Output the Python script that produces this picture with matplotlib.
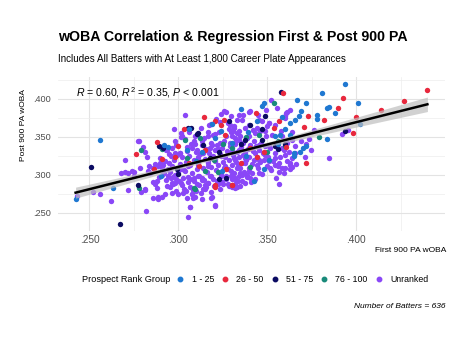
import numpy as np
import matplotlib
matplotlib.use('Agg')
import matplotlib.pyplot as plt
import matplotlib.font_manager as fm
from matplotlib.lines import Line2D

# font: a narrow sans if there is one, else plain Liberation Sans
available_fonts = set(f.name for f in fm.fontManager.ttflist)
if 'Liberation Sans Narrow' in available_fonts:
    font_family = 'Liberation Sans Narrow'
    k = 1.0
else:
    font_family = 'Liberation Sans'
    k = 0.86

plt.rcParams['font.family'] = font_family
plt.rcParams['mathtext.fontset'] = 'custom'
plt.rcParams['mathtext.rm'] = font_family
plt.rcParams['mathtext.it'] = font_family + ':italic'

# --- data (first 900 PA wOBA, post 900 PA wOBA) ---
blue_first = [.2422, .2561, .2630, .2902, .2943, .2920, .3062, .3188, .3239, .3207,
              .3353, .3470, .3479, .3440, .3582, .3545, .3573, .3390, .3423, .3648,
              .3629, .3626, .3600, .3658, .3676, .3688, .3665, .3718, .3778, .3778,
              .3808, .3838, .3846, .3878, .3937, .4007, .4019, .3836, .3700, .3686,
              .3648, .3718, .3244, .3130, .3300, .3510, .3480, .3050, .3380, .3560,
              .3100]
blue_post = [.2684, .3460, .2830, .2991, .3368, .3386, .3602, .3668, .3580, .3484,
             .3868, .3898, .3942, .3700, .3754, .3505, .3528, .3560, .2925, .3243,
             .3528, .3680, .3600, .3724, .3767, .3833, .3985, .3942, .3780, .3737,
             .4073, .3872, .3890, .3815, .4191, .3942, .3671, .3471, .3350, .3296,
             .3288, .3374, .3056, .3300, .3420, .3200, .3080, .3330, .3250, .3400,
             .3180]

red_first = [.2759, .2863, .2880, .2909, .3034, .3117, .3207, .3145, .3207, .3254,
             .3239, .3263, .3203, .3300, .3304, .3436, .3568, .3588, .3540, .3605,
             .3479, .3706, .3718, .3727, .3819, .3896, .3928, .3979, .3996, .4139,
             .4268, .4400, .3060, .3350, .3400, .3150, .3000, .3270, .3440, .2980]
red_post = [.3276, .3070, .3425, .3202, .3602, .3110, .2873, .3763, .3702, .3724,
            .3658, .3528, .2843, .2873, .2860, .3812, .3702, .4073, .3620, .3361,
            .3300, .3628, .3152, .3776, .3715, .3881, .4003, .3554, .3754, .3846,
            .3963, .4107, .3150, .3150, .3350, .3330, .3380, .3080, .3240, .3240]

navy_first = [.2511, .2670, .2774, .2893, .2915, .2991, .3000, .3231, .3269, .3111,
              .3070, .3056, .3286, .3103, .3141, .3485, .3404, .3470, .3372, .3545,
              .3560, .3470, .3577, .3937, .3600, .3180, .3350, .3230]
navy_post = [.3105, .2355, .2873, .3382, .3353, .3070, .3013, .2939, .2961, .3544,
             .3618, .3615, .3702, .3541, .3397, .3776, .3649, .3602, .3462, .3374,
             .3344, .3462, .4090, .3572, .3400, .3220, .3400, .3300]

teal_first = [.2778, .2787, .2907, .3096, .3037, .3122, .3090, .3222, .3537, .3451,
              .3789, .3560, .3300, .3200, .3400, .3500, .3600, .3150, .3380, .3250,
              .3050]
teal_post = [.2825, .3320, .3333, .2820, .3452, .3484, .2830, .3039, .3942, .3528,
             .3497, .3450, .3350, .3200, .3100, .3300, .3380, .3050, .3500, .3400,
             .3220]

unranked_first = [
    .2431, .2522, .2561, .2620, .2700, .2680, .2698, .2719, .2737, .2752,
    .2748, .2717, .2778, .2800, .2811, .2825, .2817, .2790, .2815, .2837,
    .2843, .2870, .2859, .2878, .2859, .2883, .2870, .2885, .2907, .2926,
    .2881, .2894, .2898, .2907, .2917, .2891, .2933, .2902, .2939, .2944,
    .2948, .2959, .2969, .2972, .2989, .3000, .3015, .3026, .3052, .3065,
    .3074, .3063, .3083, .3104, .3185, .3204, .3237, .3259, .3278, .3152,
    .3037, .2978, .3015, .3037, .2981, .2963, .3009, .3046, .3093, .3130,
    .3167, .3185, .3213, .3241, .3296, .3259, .3278, .3306, .3139, .3176,
    .3222, .3296, .3324, .3204, .3241, .3111, .3167, .3315, .3333, .3296,
    .3185, .3111, .3319, .3519, .3492, .3395, .3338, .3611, .3626, .3601,
    .3507, .3545, .3451, .3395, .3357, .3310, .3301, .3338, .3395, .3432,
    .3489, .3526, .3583, .3639, .3658, .3737, .3718, .3611, .3592, .3507,
    .3451, .3395, .3338, .3301, .3366, .3432, .3489, .3545, .3601, .3658,
    .3319, .3376, .3442, .3498, .3545, .3583, .3630, .3329, .3395, .3451,
    .3517, .3564, .3357, .3319, .3404, .3376, .3304, .3329, .3345, .3568,
    .3846, .3921, .3951, .3267, .3329, .3169, .3207, .3282, .3297, .3310,
    .3088, .3075, .3103, .3160, .3188, .3235, .3291, .3320, .3019, .2934,
    .2949, .2981, .3010, .2987, .2775, .2784, .2831, .2859, .2887, .2962,
    .2934, .2812, .2906, .2981, .3000, .3038, .3222, .3244, .3320, .3113,
    .3169, .3263, .3300, .3131, .3169, .3376, .3451, .3507, .3564, .3601,
    .3395, .3348, .3404, .3554, .3601, .3605, .3441, .3498, .3507, .3461,
    .3338, .3348, .3423, .3630, .3639, .3630, .3056, .3066, .3075, .3094,
    .3131, .3188, .3207, .3141, .3154, .2962, .3028, .3047,
    # dense core
    .2912, .2925, .2951, .2966, .2978, .2993, .2957, .2983, .2930, .2996,
    .3008, .3012, .3021, .3029, .3034, .3042, .3048, .3055, .3061, .3068,
    .3072, .3079, .3085, .3090, .3097, .3102, .3108, .3016, .3058, .3093,
    .3112, .3118, .3124, .3131, .3136, .3142, .3148, .3153, .3158, .3164,
    .3170, .3175, .3181, .3186, .3192, .3197, .3126, .3172, .3196, .3144,
    .3203, .3208, .3214, .3219, .3225, .3230, .3236, .3241, .3247, .3252,
    .3258, .3263, .3269, .3274, .3280, .3285, .3291, .3296, .3226, .3268,
    .3232, .3288, .3302, .3307, .3313, .3318, .3324, .3329, .3335, .3340,
    .3346, .3351, .3357, .3362, .3368, .3373, .3379, .3384, .3390, .3395,
    .3330, .3372, .3365, .3388, .3405, .3411, .3416, .3422, .3427, .3433,
    .3438, .3444, .3449, .3455, .3460, .3466, .3471, .3477, .3482, .3488,
    .3420, .3470, .3445, .3493, .3502, .3513, .3521, .3532, .3541, .3553,
    .3562, .3574, .3585, .3596, .3611, .3623, .3637, .3548, .3578, .3641,
    .3662, .3690, .3712, .3745, .3760,
    # lower core
    .2955, .2988, .3005, .3018, .3040, .3052, .3068, .3085, .3098, .3115,
    .3132, .3150, .3166, .3181, .3198, .3215, .3233, .3250, .3266, .3284,
    .3300, .3320, .3342, .3360, .3385, .3410, .3080, .3125]
unranked_post = [
    .2720, .2776, .2750, .2660, .3200, .3025, .3035, .3020, .3050, .3032,
    .2990, .2798, .3450, .3360, .3300, .3230, .2530, .2770, .2800, .3114,
    .3026, .3140, .2903, .2925, .2699, .2707, .2886, .2684, .2706, .2754,
    .2829, .3224, .3154, .3092, .3026, .2974, .3325, .3360, .2991, .3070,
    .3149, .3250, .2969, .2877, .2939, .2750, .3070, .2956, .3114, .2939,
    .2754, .2575, .2807, .2886, .2697, .2592, .2991, .3088, .2882, .2868,
    .3781, .3605, .3553, .3465, .3443, .3355, .3289, .3311, .3399, .3443,
    .3509, .3662, .3728, .3794, .3772, .3838, .3684, .3575, .3289, .3355,
    .3333, .3399, .3443, .3202, .3246, .3202, .3114, .3224, .3114, .3048,
    .2982, .2982, .2939, .3976, .3855, .3819, .3788, .3819, .3855, .3767,
    .3680, .3659, .3724, .3659, .3724, .3637, .3506, .3463, .3506, .3550,
    .3572, .3528, .3506, .3463, .3375, .3475, .3410, .3419, .3332, .3375,
    .3397, .3354, .3332, .3310, .3266, .3288, .3257, .3222, .3257, .3288,
    .3200, .3157, .3135, .3113, .3135, .3091, .3157, .3091, .3048, .3026,
    .3091, .3039, .3004, .2960, .2960, .2895, .2843, .2834, .2851, .2886,
    .3215, .3537, .3593, .3819, .3724, .3558, .3541, .3597, .3558, .3615,
    .3440, .3353, .3331, .3331, .3397, .3419, .3419, .3484, .3514, .3331,
    .3275, .3288, .3288, .3397, .3440, .3092, .3056, .3092, .3113, .2895,
    .2851, .2808, .3004, .3004, .3069, .3047, .2886, .2908, .2830, .3135,
    .3178, .3113, .3004, .2961, .2895, .3222, .3200, .3178, .3157, .3092,
    .3092, .3026, .3842, .3877, .3746, .3812, .3615, .3636, .3680, .3571,
    .3571, .3505, .3440, .3070, .3100, .3135, .2445, .2581, .2751, .2707,
    .2686, .2707, .2602, .2808, .2838, .2764, .2764, .2699,
    # dense core
    .3128, .3185, .3040, .3110, .3195, .3262, .2955, .2890, .2930, .3020,
    .3145, .2888, .3235, .3062, .2811, .3173, .3370, .2972, .3252, .3128,
    .3410, .3025, .3199, .2921, .3305, .3072, .3232, .3490, .3555, .3510,
    .3150, .2990, .3270, .3385, .3085, .2935, .3212, .3342, .3040, .3160,
    .3290, .2990, .3420, .3105, .3245, .2950, .3620, .3655, .3520, .3485,
    .3182, .3330, .3060, .3395, .3128, .2905, .3270, .3015, .3358, .3162,
    .3440, .3228, .2940, .3310, .3075, .3195, .3380, .2985, .3560, .3512,
    .3690, .3650, .3130, .3265, .3020, .3400, .3172, .3305, .2915, .3232,
    .3090, .3360, .3150, .3420, .3040, .3290, .3188, .2970, .3345, .3240,
    .3545, .3620, .3790, .3480, .3395, .3140, .3030, .3312, .3188, .2940,
    .3372, .3238, .3085, .3320, .3165, .3420, .3010, .3280, .3195, .3380,
    .3585, .3700, .3790, .3510, .3240, .3350, .3060, .3175, .3290, .3410,
    .3120, .3240, .3350, .3020, .3185, .3300, .3220, .2960, .3580, .3560,
    .3145, .3450, .3230, .3320, .3590,
    # lower core
    .2840, .2790, .2925, .2860, .2785, .2905, .2840, .2960, .2790, .2870,
    .2930, .2815, .2890, .2770, .2850, .2925, .2810, .2880, .2990, .2850,
    .2950, .2880, .2990, .2925, .3000, .2900, .2700, .2760]

group_labels = ['1 - 25', '26 - 50', '51 - 75', '76 - 100', 'Unranked']
group_colors = ['#1F78D1', '#E8283D', '#0B0B62', '#198A7A', '#8A47F7']
n_batters = 636
stats_text = r'$R$ = 0.60, $R^2$ = 0.35, $P$ < 0.001'

# --- figure ---
fig = plt.figure(figsize=(4.74, 3.38), dpi=100)
ax = fig.add_axes([58 / 474, 1 - 231 / 338, 387 / 474, 154 / 338])

groups = [
    (blue_first, blue_post),
    (red_first, red_post),
    (navy_first, navy_post),
    (teal_first, teal_post),
]
ax.scatter(unranked_first, unranked_post, s=15, color=group_colors[4], linewidths=0, zorder=2)
for (gx, gy), c in zip(groups[::-1], group_colors[3::-1]):
    ax.scatter(gx, gy, s=15, color=c, linewidths=0, zorder=2)

# regression line with 95% band
all_x = np.array(blue_first + red_first + navy_first + teal_first + unranked_first)
all_y = np.array(blue_post + red_post + navy_post + teal_post + unranked_post)
slope, intercept = np.polyfit(all_x, all_y, 1)
xs = np.linspace(all_x.min(), all_x.max(), 100)
fit = intercept + slope * xs
resid = all_y - (intercept + slope * all_x)
s_err = np.sqrt(np.sum(resid ** 2) / (len(all_x) - 2))
se = s_err * np.sqrt(1 / len(all_x) + (xs - all_x.mean()) ** 2 / np.sum((all_x - all_x.mean()) ** 2))
ax.fill_between(xs, fit - 1.96 * se, fit + 1.96 * se, color='#BEBEBE', alpha=0.7, linewidth=0, zorder=3)
ax.plot(xs, fit, color='black', lw=1.8, zorder=4)

ax.margins(0.05)
ax.set_xticks([.25, .30, .35, .40])
ax.set_xticklabels(['.250', '.300', '.350', '.400'])
ax.set_yticks([.25, .30, .35, .40])
ax.set_yticklabels(['.250', '.300', '.350', '.400'])
ax.set_xticks([.275, .325, .375, .425], minor=True)
ax.set_yticks([.275, .325, .375, .425], minor=True)
ax.grid(which='major', color='#E3E3E3', lw=0.8, zorder=0)
ax.grid(which='minor', color='#EDEDED', lw=0.5, zorder=0)
ax.set_axisbelow(True)
ax.tick_params(which='both', length=0, colors='#4D4D4D')
ax.tick_params(axis='x', labelsize=8.5 * k, pad=3)
ax.tick_params(axis='y', labelsize=7.6 * k, pad=5)
for spine in ax.spines.values():
    spine.set_visible(False)

ax.text(0.2425, 0.408, stats_text, fontsize=8.8 * k, ha='left', va='center', color='black')

# titles and captions
fig.text(58 / 474, 1 - 40.5 / 338, 'wOBA Correlation & Regression First & Post 900 PA',
         fontsize=11.8 * k, fontweight='bold', va='baseline')
fig.text(58 / 474, 1 - 61.5 / 338, 'Includes All Batters with At Least 1,800 Career Plate Appearances',
         fontsize=8.3 * k, va='baseline')
fig.text(24 / 474, 1 - 89 / 338, 'Post 900 PA wOBA', rotation=90, ha='center', va='top', fontsize=7 * k)
fig.text(446 / 474, 1 - 251 / 338, 'First 900 PA wOBA', ha='right', va='center', fontsize=7 * k)
fig.text(446 / 474, 1 - 306 / 338, f'Number of Batters = {n_batters}', ha='right', va='center',
         fontsize=7 * k, style='italic')

# legend
fig.text(82 / 474, 1 - 280 / 338, 'Prospect Rank Group', ha='left', va='center', fontsize=7.6 * k)
handles = [Line2D([0], [0], marker='o', linestyle='', color=c, markersize=3.2) for c in group_colors]
fig.legend(handles, group_labels, loc='center left', bbox_to_anchor=(177 / 474, 1 - 280 / 338),
           ncol=5, frameon=False, fontsize=7.3 * k, handlelength=0.8, handletextpad=0.9,
           columnspacing=0.85, borderpad=0, borderaxespad=0)

fig.savefig('out.png', dpi=100)
